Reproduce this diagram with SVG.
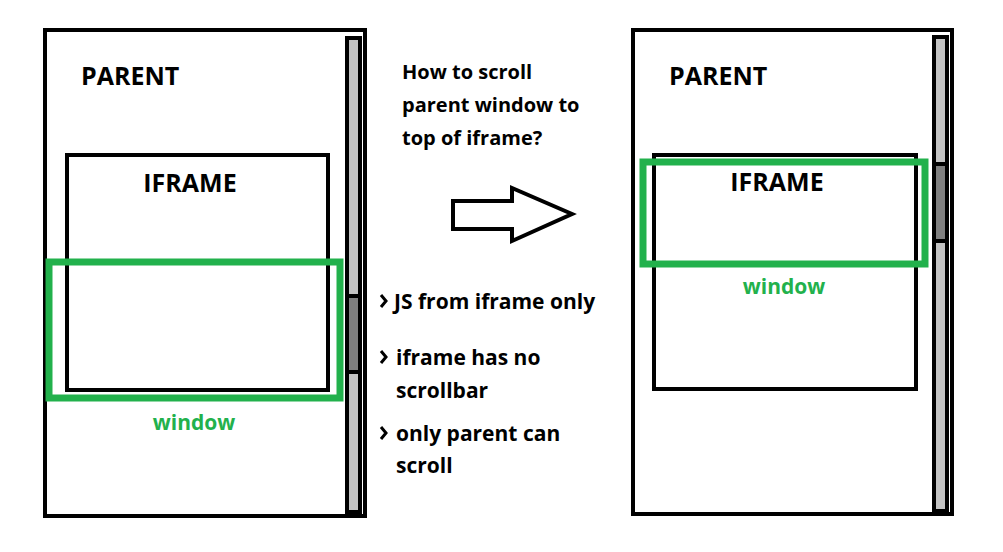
<svg xmlns="http://www.w3.org/2000/svg" width="1003" height="552" viewBox="0 0 1003 552">
<style>
.t{font-family:"Open Sans","Liberation Sans",sans-serif;font-weight:bold;fill:#000}
.g{fill:#22b14c}
.box{fill:none;stroke:#000;stroke-width:4}
.win{fill:none;stroke:#22b14c;stroke-width:7}
.sb{fill:#c3c3c3;stroke:#000;stroke-width:4}
.th{fill:#7f7f7f;stroke:#000;stroke-width:4}
</style>
<rect width="1003" height="552" fill="#fff"/>
<g id="parent-left">
<rect class="box" x="45" y="30" width="320" height="486"/>
<rect class="sb" x="347" y="38" width="13" height="474"/>
<rect class="th" x="347" y="296" width="13" height="76"/>
<text class="t" x="81" y="85" font-size="25">PARENT</text>
</g>
<g id="iframe-left">
<rect class="box" x="67" y="155" width="261" height="235"/>
<text class="t" x="190" y="192" font-size="25" text-anchor="middle">IFRAME</text>
</g>
<g id="window-left">
<rect class="win" x="49" y="262" width="291" height="136"/>
<text class="t g" x="194" y="430" font-size="21" text-anchor="middle">window</text>
</g>
<g id="parent-right">
<rect class="box" x="633" y="30" width="319" height="484"/>
<rect class="sb" x="934" y="37" width="13" height="474"/>
<rect class="th" x="934" y="164" width="13" height="77"/>
<text class="t" x="669" y="85" font-size="25">PARENT</text>
</g>
<g id="iframe-right">
<rect class="box" x="654" y="155" width="262" height="234"/>
<text class="t" x="777" y="191" font-size="25" text-anchor="middle">IFRAME</text>
</g>
<g id="window-right">
<rect class="win" x="643" y="162" width="282" height="102"/>
<text class="t g" x="784" y="294" font-size="21" text-anchor="middle">window</text>
</g>
<g id="question">
<text class="t" font-size="20"><tspan x="402" y="79">How to scroll</tspan><tspan x="402" y="112">parent window to</tspan><tspan x="402" y="145">top of iframe?</tspan></text>
</g>
<g id="connectors">
<polygon points="453,201 512,201 512,188 572,214 512,241 512,229 453,229" fill="#fff" stroke="#000" stroke-width="4" stroke-linejoin="miter"/>
</g>
<g id="notes">
<g fill="none" stroke="#000" stroke-width="3">
<polyline points="381,295 386,301 381,307"/>
<polyline points="381,351 386,357 381,363"/>
<polyline points="381,427 386,433 381,439"/>
</g>
<text class="t" font-size="21"><tspan x="394" y="309">JS from iframe only</tspan><tspan x="396" y="365">iframe has no</tspan><tspan x="396" y="398">scrollbar</tspan><tspan x="396" y="441">only parent can</tspan><tspan x="396" y="473">scroll</tspan></text>
</g>
</svg>
